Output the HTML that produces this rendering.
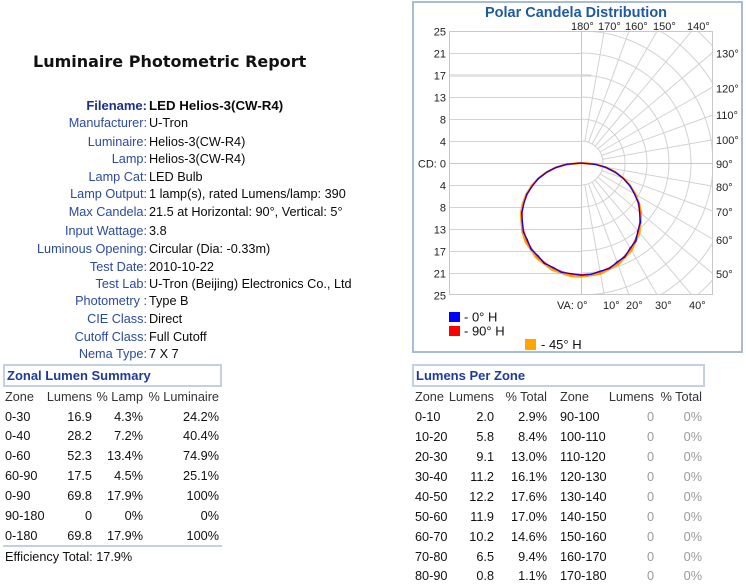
<!DOCTYPE html>
<html><head><meta charset="utf-8">
<style>
html,body{margin:0;padding:0;background:#fff;}
#p{position:relative;width:746px;height:585px;overflow:hidden;background:#fff;font-family:"Liberation Sans",Arial,sans-serif;font-size:12.7px;color:#111;}
.a{position:absolute;white-space:nowrap;line-height:18px;height:18px;}
.lb{left:0;width:147px;text-align:right;color:#2b4a9e;}
.vl{left:149px;color:#0a0a0a;}
.r{text-align:right;}
.g{color:#999;}
.box{position:absolute;border:2px solid #c3d0e2;box-sizing:border-box;}
.bt{position:absolute;font-weight:bold;font-size:13px;color:#1d3a9c;line-height:18px;white-space:nowrap;}
</style></head><body>
<div id="p">
<div class="a" style="left:33px;top:52px;line-height:20px;height:20px;font-family:'DejaVu Sans',sans-serif;font-weight:bold;font-size:16px;color:#111;">Luminaire Photometric Report</div>

<div class="a lb" style="top:96.5px;font-weight:bold;color:#1c2f8c;font-size:13px;">Filename:</div><div class="a vl" style="top:96.5px;font-weight:bold;font-size:13.3px;">LED Helios-3(CW-R4)</div>
<div class="a lb" style="top:114.3px;">Manufacturer:</div><div class="a vl" style="top:114.3px;">U-Tron</div>
<div class="a lb" style="top:132.5px;">Luminaire:</div><div class="a vl" style="top:132.5px;">Helios-3(CW-R4)</div>
<div class="a lb" style="top:149.7px;">Lamp:</div><div class="a vl" style="top:149.7px;">Helios-3(CW-R4)</div>
<div class="a lb" style="top:167.5px;">Lamp Cat:</div><div class="a vl" style="top:167.5px;">LED Bulb</div>
<div class="a lb" style="top:185px;">Lamp Output:</div><div class="a vl" style="top:185px;">1 lamp(s), rated Lumens/lamp: 390</div>
<div class="a lb" style="top:202.7px;">Max Candela:</div><div class="a vl" style="top:202.7px;">21.5 at Horizontal: 90°, Vertical: 5°</div>
<div class="a lb" style="top:222px;">Input Wattage:</div><div class="a vl" style="top:222px;">3.8</div>
<div class="a lb" style="top:240px;">Luminous Opening:</div><div class="a vl" style="top:240px;">Circular (Dia: -0.33m)</div>
<div class="a lb" style="top:257.5px;">Test Date:</div><div class="a vl" style="top:257.5px;">2010-10-22</div>
<div class="a lb" style="top:274.5px;">Test Lab:</div><div class="a vl" style="top:274.5px;">U-Tron (Beijing) Electronics Co., Ltd</div>
<div class="a lb" style="top:292px;">Photometry :</div><div class="a vl" style="top:292px;">Type B</div>
<div class="a lb" style="top:310px;">CIE Class:</div><div class="a vl" style="top:310px;">Direct</div>
<div class="a lb" style="top:327.5px;">Cutoff Class:</div><div class="a vl" style="top:327.5px;">Full Cutoff</div>
<div class="a lb" style="top:345px;">Nema Type:</div><div class="a vl" style="top:345px;">7 X 7</div>

<!-- Zonal Lumen Summary -->
<div class="box" style="left:3px;top:364px;width:219px;height:23px;"></div>
<div class="bt" style="left:7px;top:366.5px;">Zonal Lumen Summary</div>
<div class="a" style="left:5px;top:388px;color:#333;">Zone</div>
<div class="a r" style="left:32px;width:60px;top:388px;color:#333;">Lumens</div>
<div class="a r" style="left:83px;width:60px;top:388px;color:#333;">% Lamp</div>
<div class="a r" style="left:139px;width:80px;top:388px;color:#333;">% Luminaire</div>

<div class="a" style="left:5px;top:407.7px;">0-30</div><div class="a r" style="left:32px;width:60px;top:407.7px;">16.9</div><div class="a r" style="left:83px;width:60px;top:407.7px;">4.3%</div><div class="a r" style="left:139px;width:80px;top:407.7px;">24.2%</div>
<div class="a" style="left:5px;top:427.2px;">0-40</div><div class="a r" style="left:32px;width:60px;top:427.2px;">28.2</div><div class="a r" style="left:83px;width:60px;top:427.2px;">7.2%</div><div class="a r" style="left:139px;width:80px;top:427.2px;">40.4%</div>
<div class="a" style="left:5px;top:446.5px;">0-60</div><div class="a r" style="left:32px;width:60px;top:446.5px;">52.3</div><div class="a r" style="left:83px;width:60px;top:446.5px;">13.4%</div><div class="a r" style="left:139px;width:80px;top:446.5px;">74.9%</div>
<div class="a" style="left:5px;top:466.5px;">60-90</div><div class="a r" style="left:32px;width:60px;top:466.5px;">17.5</div><div class="a r" style="left:83px;width:60px;top:466.5px;">4.5%</div><div class="a r" style="left:139px;width:80px;top:466.5px;">25.1%</div>
<div class="a" style="left:5px;top:486.5px;">0-90</div><div class="a r" style="left:32px;width:60px;top:486.5px;">69.8</div><div class="a r" style="left:83px;width:60px;top:486.5px;">17.9%</div><div class="a r" style="left:139px;width:80px;top:486.5px;">100%</div>
<div class="a" style="left:5px;top:507px;">90-180</div><div class="a r" style="left:32px;width:60px;top:507px;">0</div><div class="a r" style="left:83px;width:60px;top:507px;">0%</div><div class="a r" style="left:139px;width:80px;top:507px;">0%</div>
<div class="a" style="left:5px;top:527px;">0-180</div><div class="a r" style="left:32px;width:60px;top:527px;">69.8</div><div class="a r" style="left:83px;width:60px;top:527px;">17.9%</div><div class="a r" style="left:139px;width:80px;top:527px;">100%</div>
<div style="position:absolute;left:3px;top:544.5px;width:219px;height:2.5px;background:#c3d0e2;"></div>
<div class="a" style="left:5px;top:548px;">Efficiency Total: 17.9%</div>

<!-- Lumens Per Zone -->
<div class="box" style="left:412px;top:364px;width:293px;height:23px;"></div>
<div class="bt" style="left:416px;top:366.5px;">Lumens Per Zone</div>
<div class="a" style="left:415px;top:388px;color:#333;">Zone</div>
<div class="a r" style="left:434px;width:60px;top:388px;color:#333;">Lumens</div>
<div class="a r" style="left:487px;width:60px;top:388px;color:#333;">% Total</div>
<div class="a" style="left:560px;top:388px;color:#333;">Zone</div>
<div class="a r" style="left:594px;width:60px;top:388px;color:#333;">Lumens</div>
<div class="a r" style="left:642px;width:60px;top:388px;color:#333;">% Total</div>

<div class="a" style="left:415px;top:408px;">0-10</div><div class="a r" style="left:434px;width:60px;top:408px;">2.0</div><div class="a r" style="left:487px;width:60px;top:408px;">2.9%</div><div class="a" style="left:560px;top:408px;">90-100</div><div class="a r g" style="left:594px;width:60px;top:408px;">0</div><div class="a r g" style="left:642px;width:60px;top:408px;">0%</div>
<div class="a" style="left:415px;top:428px;">10-20</div><div class="a r" style="left:434px;width:60px;top:428px;">5.8</div><div class="a r" style="left:487px;width:60px;top:428px;">8.4%</div><div class="a" style="left:560px;top:428px;">100-110</div><div class="a r g" style="left:594px;width:60px;top:428px;">0</div><div class="a r g" style="left:642px;width:60px;top:428px;">0%</div>
<div class="a" style="left:415px;top:447.5px;">20-30</div><div class="a r" style="left:434px;width:60px;top:447.5px;">9.1</div><div class="a r" style="left:487px;width:60px;top:447.5px;">13.0%</div><div class="a" style="left:560px;top:447.5px;">110-120</div><div class="a r g" style="left:594px;width:60px;top:447.5px;">0</div><div class="a r g" style="left:642px;width:60px;top:447.5px;">0%</div>
<div class="a" style="left:415px;top:467.5px;">30-40</div><div class="a r" style="left:434px;width:60px;top:467.5px;">11.2</div><div class="a r" style="left:487px;width:60px;top:467.5px;">16.1%</div><div class="a" style="left:560px;top:467.5px;">120-130</div><div class="a r g" style="left:594px;width:60px;top:467.5px;">0</div><div class="a r g" style="left:642px;width:60px;top:467.5px;">0%</div>
<div class="a" style="left:415px;top:487.5px;">40-50</div><div class="a r" style="left:434px;width:60px;top:487.5px;">12.2</div><div class="a r" style="left:487px;width:60px;top:487.5px;">17.6%</div><div class="a" style="left:560px;top:487.5px;">130-140</div><div class="a r g" style="left:594px;width:60px;top:487.5px;">0</div><div class="a r g" style="left:642px;width:60px;top:487.5px;">0%</div>
<div class="a" style="left:415px;top:507.5px;">50-60</div><div class="a r" style="left:434px;width:60px;top:507.5px;">11.9</div><div class="a r" style="left:487px;width:60px;top:507.5px;">17.0%</div><div class="a" style="left:560px;top:507.5px;">140-150</div><div class="a r g" style="left:594px;width:60px;top:507.5px;">0</div><div class="a r g" style="left:642px;width:60px;top:507.5px;">0%</div>
<div class="a" style="left:415px;top:527.5px;">60-70</div><div class="a r" style="left:434px;width:60px;top:527.5px;">10.2</div><div class="a r" style="left:487px;width:60px;top:527.5px;">14.6%</div><div class="a" style="left:560px;top:527.5px;">150-160</div><div class="a r g" style="left:594px;width:60px;top:527.5px;">0</div><div class="a r g" style="left:642px;width:60px;top:527.5px;">0%</div>
<div class="a" style="left:415px;top:547.5px;">70-80</div><div class="a r" style="left:434px;width:60px;top:547.5px;">6.5</div><div class="a r" style="left:487px;width:60px;top:547.5px;">9.4%</div><div class="a" style="left:560px;top:547.5px;">160-170</div><div class="a r g" style="left:594px;width:60px;top:547.5px;">0</div><div class="a r g" style="left:642px;width:60px;top:547.5px;">0%</div>
<div class="a" style="left:415px;top:567px;">80-90</div><div class="a r" style="left:434px;width:60px;top:567px;">0.8</div><div class="a r" style="left:487px;width:60px;top:567px;">1.1%</div><div class="a" style="left:560px;top:567px;">170-180</div><div class="a r g" style="left:594px;width:60px;top:567px;">0</div><div class="a r g" style="left:642px;width:60px;top:567px;">0%</div>

<!-- Polar chart -->
<svg width="746" height="585" style="position:absolute;left:0;top:0;" xmlns="http://www.w3.org/2000/svg" font-family="Liberation Sans, Arial, sans-serif">
<defs><clipPath id="pc"><rect x="449" y="31" width="264" height="264"/></clipPath></defs>
<rect x="413" y="2" width="329" height="350" fill="none" stroke="#a9bcd4" stroke-width="2"/>
<text x="576" y="17" text-anchor="middle" font-size="14.5" font-weight="bold" fill="#1f5aa0">Polar Candela Distribution</text>
<g stroke="#d2d2d2" stroke-width="1" fill="none">
<path d="M449 53.5H581M449 75.5H581M449 97.5H581M449 119.5H581M449 141.5H581M449 185.5H581M449 207.5H581M449 229.5H581M449 251.5H581M449 273.5H581"/>
<path d="M449 75.5H591" stroke="#e4e4e4" stroke-width="3"/>
<g clip-path="url(#pc)">
<path d="M581 141A22 22 0 0 1 581 185M581 119A44 44 0 0 1 581 207M581 97A66 66 0 0 1 581 229M581 75A88 88 0 0 1 581 251M581 53A110 110 0 0 1 581 273M581 31A132 132 0 0 1 581 295M581 9A154 154 0 0 1 581 317M581 -13A176 176 0 0 1 581 339"/>
<path d="M584.8 184.7L615.7 360M588.5 183.7L649.4 350.9M592 182.1L681 336.2M595.1 179.9L709.6 316.2M597.9 177.1L734.2 291.6M600.1 174L754.2 263M601.7 170.5L768.9 231.4M602.7 166.8L778 197.7M602.7 159.2L778 128.3M601.7 155.5L768.9 94.6M600.1 152L754.2 63M597.9 148.9L734.2 34.4M595.1 146.1L709.6 9.8M592 143.9L681 -10.2M588.5 142.3L649.4 -24.9M584.8 141.3L615.7 -34"/>
</g>
<path d="M449 163.5H713M581.5 31V295" stroke="#c8c8c8"/>
<rect x="449.5" y="31.5" width="263" height="263" stroke="#c8c8c8"/>
</g>
<g font-size="11" fill="#222" text-anchor="end">
<text x="446" y="35.5">25</text><text x="446" y="57.5">21</text><text x="446" y="79.5">17</text><text x="446" y="101.5">13</text><text x="446" y="123.5">8</text><text x="446" y="145.5">4</text><text x="446" y="167.5">CD: 0</text>
<text x="446" y="189.5">4</text><text x="446" y="211.5">8</text><text x="446" y="233.5">13</text><text x="446" y="255.5">17</text><text x="446" y="277.5">21</text><text x="446" y="299.5">25</text>
</g>
<g font-size="11" fill="#222">
<text x="571" y="30">180°</text><text x="598" y="30">170°</text><text x="625" y="30">160°</text><text x="653" y="30">150°</text><text x="687" y="30">140°</text>
<text x="716" y="57.5">130°</text><text x="716" y="92.5">120°</text><text x="716" y="119">110°</text><text x="716" y="144">100°</text><text x="716" y="168">90°</text>
<text x="716" y="191">80°</text><text x="716" y="216">70°</text><text x="716" y="244">60°</text><text x="716" y="278">50°</text>
<text x="557" y="309">VA: 0°</text><text x="603" y="309">10°</text><text x="626" y="309">20°</text><text x="655" y="309">30°</text><text x="689" y="309">40°</text>
</g>
<g transform="translate(581,163)" fill="none" stroke-linejoin="round">
<polyline transform="scale(1.015)" vector-effect="non-scaling-stroke" stroke="#ffa500" stroke-width="2.2" points="0,0 -14.4,1.4 -25.3,4.6 -34.6,9.5 -42.6,15.6 -48.6,22.5 -54.2,31.4 -57.5,40.4 -59.2,49.7 -58.6,59.2 -57.6,68.6 -54.5,77.9 -49.2,85.4 -43.8,93.6 -36,99.4 -28.4,105.3 -19,108.5 -9.9,111.4 0,112 9.5,110.8 19.4,109.1 27.8,104.6 36.6,100 43.2,93 49.8,86 54,77.1 57.6,68.7 58.6,58.6 59.2,49.7 57.4,40.2 54,31.3 48.5,22.5 42.6,15.6 33.9,9 25.2,4.6 13.8,1.1 0,0"/>
<polyline stroke="#ff0000" stroke-width="1.5" points="0,0 -14,1.2 -24.9,4.4 -34.2,9.2 -42.3,15.4 -48.8,22.7 -53.8,31.1 -57.2,40 -58.9,49.4 -58.9,58.9 -57.3,68.3 -54.2,77.4 -49.5,85.7 -43.5,93.3 -36.3,99.7 -28.1,105 -19.2,108.8 -9.7,111.1 0,111.9 9.7,111.1 19.2,108.8 28.1,105 36.3,99.7 43.5,93.3 49.5,85.7 54.2,77.4 57.3,68.3 58.9,58.9 58.9,49.4 57.2,40 53.8,31.1 48.8,22.7 42.3,15.4 34.2,9.2 24.9,4.4 14,1.2 0,0"/>
<polyline stroke="#0000ff" stroke-width="1.1" points="0,0 -14.5,1.3 -25.5,4.6 -34,9 -43,15.8 -48,22.3 -54.5,31.5 -56.8,39.7 -59.5,50 -58.5,58.5 -57.8,69 -53.6,76.6 -50,86.5 -43,92.5 -36.8,100.5 -27.6,104.4 -19.5,109.5 -9.5,110.5 0,112.3 10,111.5 18.8,108.2 28.6,105.6 35.8,99 44,94 49,85 55,78.2 56.8,67.6 59.6,59.5 58.4,48.8 58,40.6 53.2,30.6 49.4,23.2 41.8,15 34.8,9.6 24.4,4.1 14.4,1.4 0,0"/>
</g>
<rect x="449" y="312" width="11" height="10" fill="#0000ff"/>
<rect x="449" y="326" width="11" height="10" fill="#ff0000"/>
<rect x="525" y="339" width="11" height="11" fill="#ffa500"/>
<g font-size="13" fill="#111">
<text x="464" y="321.5">- 0° H</text>
<text x="464" y="335.5">- 90° H</text>
<text x="541" y="349">- 45° H</text>
</g>
</svg>
</div>
</body></html>
